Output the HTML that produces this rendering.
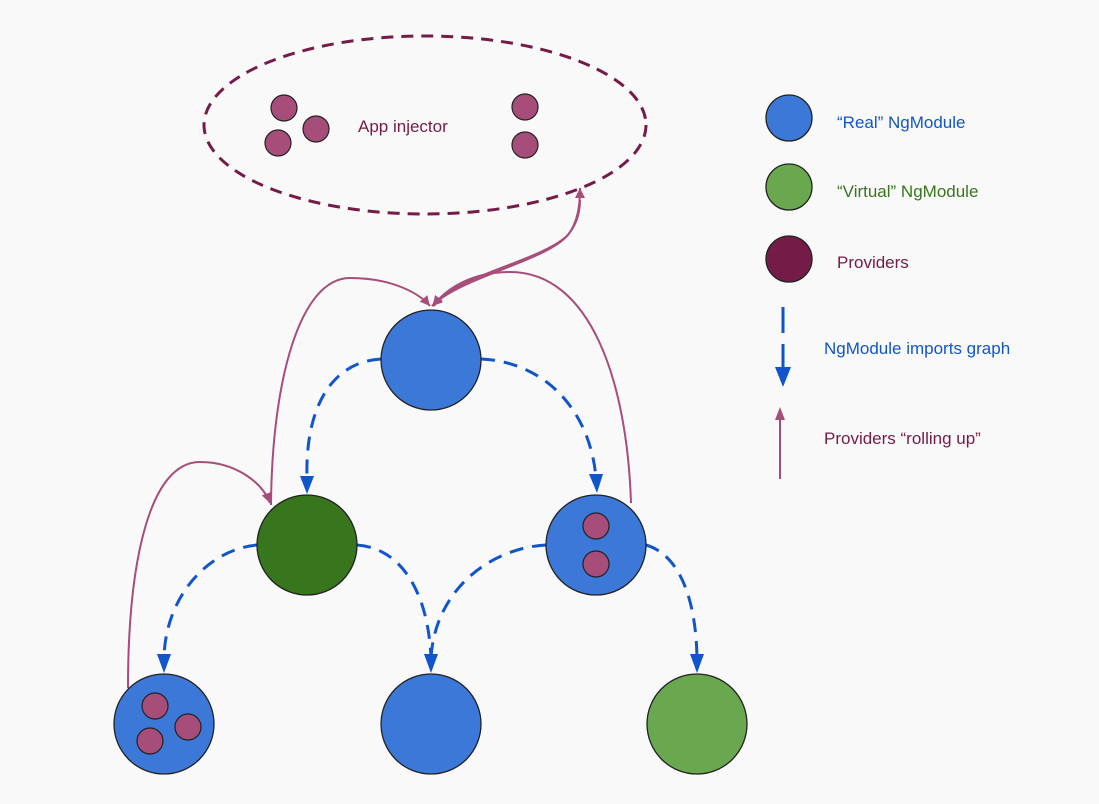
<!DOCTYPE html>
<html><head><meta charset="utf-8"><style>
html,body{margin:0;padding:0;background:#f9f9f9;}
svg{display:block;font-family:"Liberation Sans",Arial,sans-serif;}
</style></head><body>
<svg width="1099" height="804" viewBox="0 0 1099 804" xmlns="http://www.w3.org/2000/svg">
<defs>
<marker id="bA" viewBox="0 0 10 10" refX="9" refY="5" markerWidth="6" markerHeight="6" markerUnits="userSpaceOnUse" orient="auto" style="overflow:visible">
<path d="M-4,-5 L10,5 L-4,15 z" fill="#1155cc" transform="scale(1)"/></marker>
<marker id="pA" viewBox="0 0 10 10" refX="10" refY="5" markerWidth="10" markerHeight="10" markerUnits="userSpaceOnUse" orient="auto">
<path d="M0,0 L10,5 L0,10 z" fill="#a64d79"/></marker>
</defs>
<rect width="1099" height="804" fill="#f9f9f9"/>
<!-- ellipse -->
<ellipse cx="425" cy="125" rx="221" ry="89" fill="none" stroke="#741b47" stroke-width="3" stroke-dasharray="12,8"/>
<g fill="#a64d79" stroke="#222" stroke-width="1.2">
<circle cx="284" cy="108" r="13"/><circle cx="278" cy="143" r="13"/><circle cx="316" cy="129" r="13"/>
<circle cx="525" cy="107" r="13"/><circle cx="525" cy="145" r="13"/>
</g>
<text x="358" y="132" font-size="17" fill="#741b47">App injector</text>

<!-- pink curves -->
<g fill="none" stroke="#a64d79" stroke-width="2">
<path d="M128,688 C128,560 150,462 200,462 C235,462 262,482 270,503" marker-end="url(#pA)"/>
<path d="M271,505 C272,380 300,278 350,278 C390,278 418,292 430,306" marker-end="url(#pA)"/>
<path d="M631,503 C627,380 590,272 510,272 C470,272 445,290 433,306" marker-end="url(#pA)"/>
<path d="M434,306 C455,275 540,262 568,235 C578,222 580,205 580,188" marker-end="url(#pA)"/>
<path d="M580,200 C580,215 575,228 565,238 C540,262 460,278 432,306" marker-end="url(#pA)"/>
</g>

<!-- blue dashed curves -->
<g fill="none" stroke="#1155cc" stroke-width="3" stroke-dasharray="14,9">
<path d="M381,359 C330,362 305,410 307,478"/>
<path d="M481,359 C545,362 590,410 596,478"/>
<path d="M357,545 C400,548 428,590 431,658"/>
<path d="M257,545 C205,550 165,600 164,658"/>
<path d="M546,545 C490,548 435,590 431,658"/>
<path d="M646,545 C680,555 696,600 697,658"/>
</g>
<g fill="#1155cc">
<path d="M300,476 L314,476 L307,494 z"/>
<path d="M589,474 L603,474 L597,493 z"/>
<path d="M424,654 L438,654 L431,673 z"/>
<path d="M157,654 L171,654 L164,673 z"/>
<path d="M690,654 L704,654 L697,673 z"/>
</g>

<!-- nodes -->
<g stroke="#222" stroke-width="1.3">
<circle cx="431" cy="360" r="50" fill="#3c78d8"/>
<circle cx="307" cy="545" r="50" fill="#38761d"/>
<circle cx="596" cy="545" r="50" fill="#3c78d8"/>
<circle cx="164" cy="724" r="50" fill="#3c78d8"/>
<circle cx="431" cy="724" r="50" fill="#3c78d8"/>
<circle cx="697" cy="724" r="50" fill="#6aa84f"/>
</g>
<g fill="#a64d79" stroke="#222" stroke-width="1.2">
<circle cx="596" cy="526" r="13"/><circle cx="596" cy="564" r="13"/>
<circle cx="155" cy="706" r="13"/><circle cx="188" cy="727" r="13"/><circle cx="150" cy="741" r="13"/>
</g>

<!-- legend -->
<g stroke="#222" stroke-width="1.3">
<circle cx="789" cy="118" r="23" fill="#3c78d8"/>
<circle cx="789" cy="187" r="23" fill="#6aa84f"/>
<circle cx="789" cy="259" r="23" fill="#741b47"/>
</g>
<text x="837" y="128" font-size="17" fill="#1155cc">“Real” NgModule</text>
<text x="837" y="197" font-size="17" fill="#38761d">“Virtual” NgModule</text>
<text x="837" y="268" font-size="17" fill="#741b47">Providers</text>
<line x1="783" y1="307" x2="783" y2="333" stroke="#1155cc" stroke-width="3"/>
<line x1="783" y1="344" x2="783" y2="370" stroke="#1155cc" stroke-width="3"/>
<path d="M775,367 L791,367 L783,387 z" fill="#1155cc"/>
<text x="824" y="354" font-size="17" fill="#1155cc">NgModule imports graph</text>
<line x1="780" y1="479" x2="780" y2="418" stroke="#a64d79" stroke-width="2"/>
<path d="M775,420 L785,420 L780,407 z" fill="#a64d79"/>
<text x="824" y="444" font-size="17" fill="#741b47">Providers “rolling up”</text>
</svg>
</body></html>
